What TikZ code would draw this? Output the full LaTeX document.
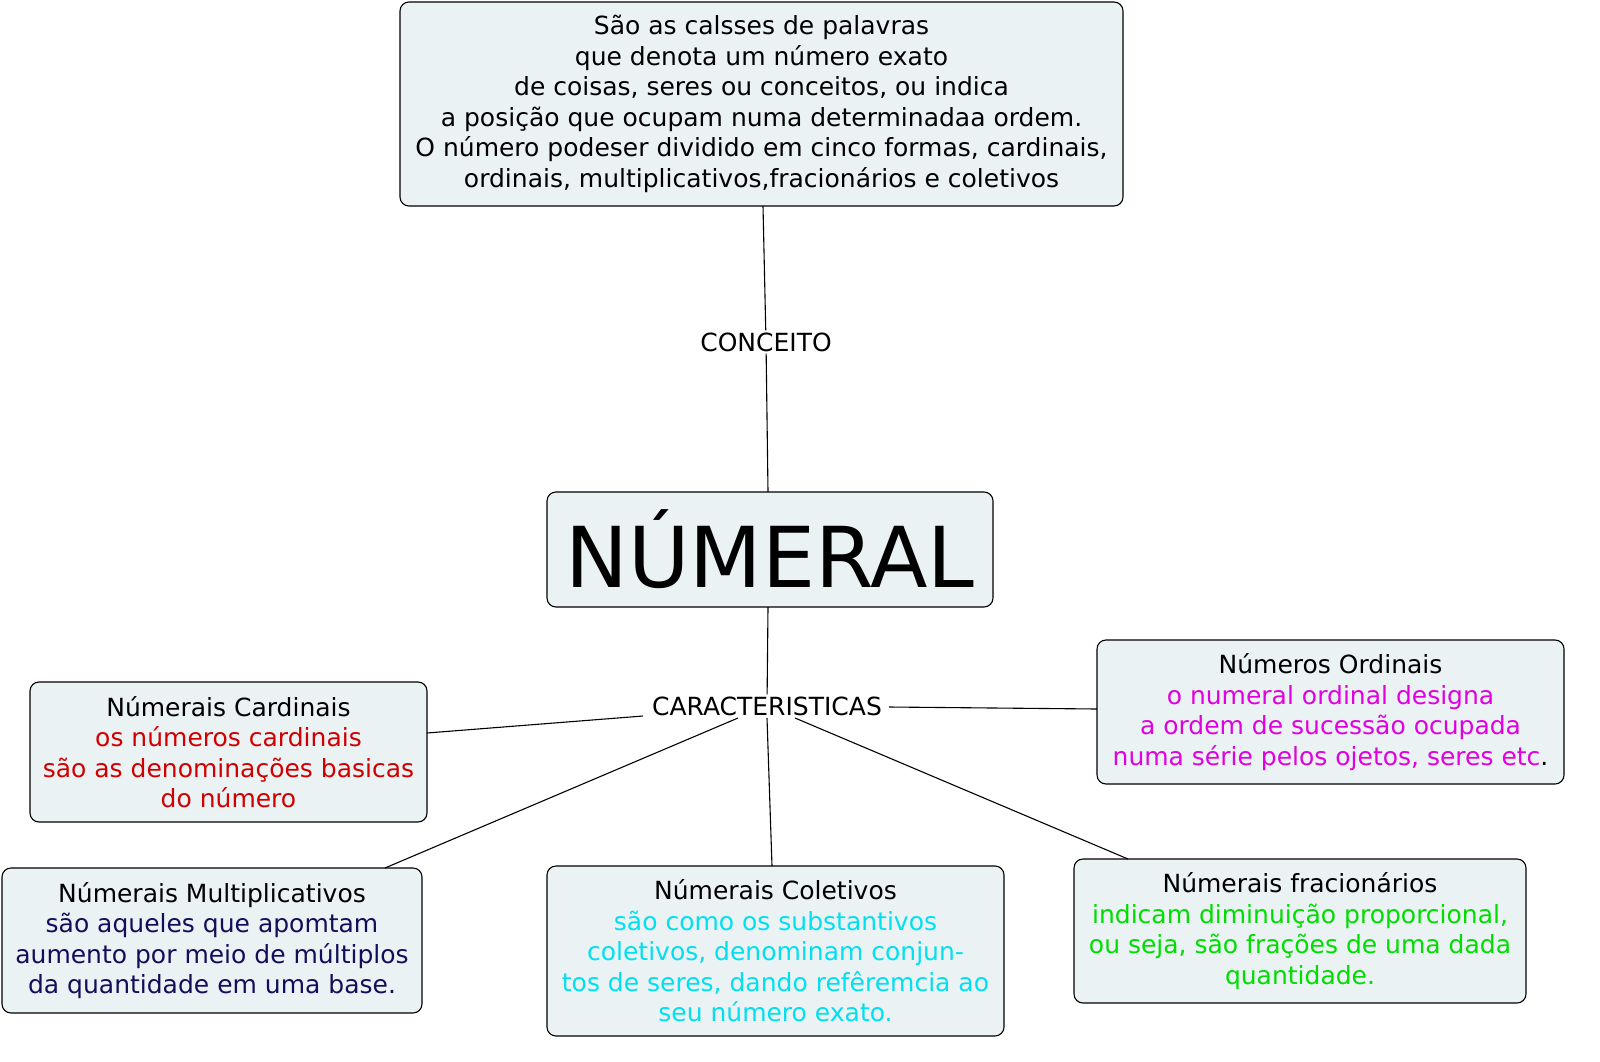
\documentclass[tikz,border=0pt]{standalone}
\usepackage{fontspec}
\setmainfont{DejaVu Sans}
\definecolor{boxfill}{HTML}{EBF2F4}
\definecolor{cred}{HTML}{D00000}
\definecolor{cmag}{HTML}{E000E0}
\definecolor{cnavy}{HTML}{10105A}
\definecolor{ccyan}{HTML}{00E0F0}
\definecolor{cgreen}{HTML}{00DD00}
\begin{document}
\begin{tikzpicture}[x=1pt,y=-1pt,
  box/.style={draw,rounded corners=9pt,fill=boxfill,line width=1.1pt,align=center,inner sep=0pt,
    font=\fontsize{25}{30.5}\selectfont},
  lbl/.style={fill=white,inner sep=2pt,font=\fontsize{25}{26}\selectfont},
  conn/.style={line width=1.1pt}]
\node[box,minimum width=723pt,minimum height=204pt] (top) at (761.5,104) {São as calsses de palavras\\ que denota um número exato\\de coisas, seres ou conceitos, ou indica\\a posição que ocupam numa determinadaa ordem.\\O número podeser dividido em cinco formas, cardinais,\\ordinais, multiplicativos,fracionários e coletivos};
\node[box,minimum width=446pt,minimum height=115pt,font=\fontsize{84}{84}\selectfont] (num) at (770,549.5) {NÚMERAL};
\node[box,minimum width=397pt,minimum height=140pt] (card) at (228.5,752) {Númerais Cardinais\\\textcolor{cred}{os números cardinais}\\\textcolor{cred}{são as denominações basicas}\\\textcolor{cred}{do número}};
\node[box,minimum width=420pt,minimum height=145pt] (mult) at (212,940.5) {Númerais Multiplicativos\\\textcolor{cnavy}{são aqueles que apomtam}\\\textcolor{cnavy}{aumento por meio de múltiplos}\\\textcolor{cnavy}{da quantidade em uma base.}};
\node[box,minimum width=457pt,minimum height=170pt] (col) at (775.5,951) {Númerais Coletivos\\\textcolor{ccyan}{são como os substantivos}\\\textcolor{ccyan}{coletivos, denominam conjun-}\\\textcolor{ccyan}{tos de seres, dando refêremcia ao}\\\textcolor{ccyan}{seu número exato.}};
\node[box,minimum width=452pt,minimum height=144pt] (frac) at (1300,931) {Númerais fracionários\\\textcolor{cgreen}{indicam diminuição proporcional,}\\\textcolor{cgreen}{ou seja, são frações de uma dada}\\\textcolor{cgreen}{quantidade.}};
\node[box,minimum width=467pt,minimum height=144pt] (ord) at (1330.5,712) {Números Ordinais\\\textcolor{cmag}{o numeral ordinal designa}\\\textcolor{cmag}{a ordem de sucessão ocupada}\\\textcolor{cmag}{numa série pelos ojetos, seres etc}.};
\node[lbl] (conc) at (766,342) {CONCEITO};
\node[lbl] (car) at (767,706) {CARACTERISTICAS};
\coordinate (t1) at (763,206);
\coordinate (n1) at (768,492);
\coordinate (n2) at (768,607);
\coordinate (ca) at (427,733);
\coordinate (mu) at (385,868);
\coordinate (co) at (772,866);
\coordinate (fr) at (1128,859);
\coordinate (or) at (1097,709);
\coordinate (s1) at (643,716);
\coordinate (s2) at (738,718);
\coordinate (s3) at (767,718);
\coordinate (s4) at (795,718);
\coordinate (s5) at (889,707);
\draw[conn] (t1) -- (conc);
\draw[conn] (conc) -- (n1);
\draw[conn] (n2) -- (car);
\draw[conn] (s1) -- (ca);
\draw[conn] (s2) -- (mu);
\draw[conn] (s3) -- (co);
\draw[conn] (s4) -- (fr);
\draw[conn] (s5) -- (or);
\pgfresetboundingbox
\path[use as bounding box] (0,0) rectangle (1600,1062);
\end{tikzpicture}
\end{document}
